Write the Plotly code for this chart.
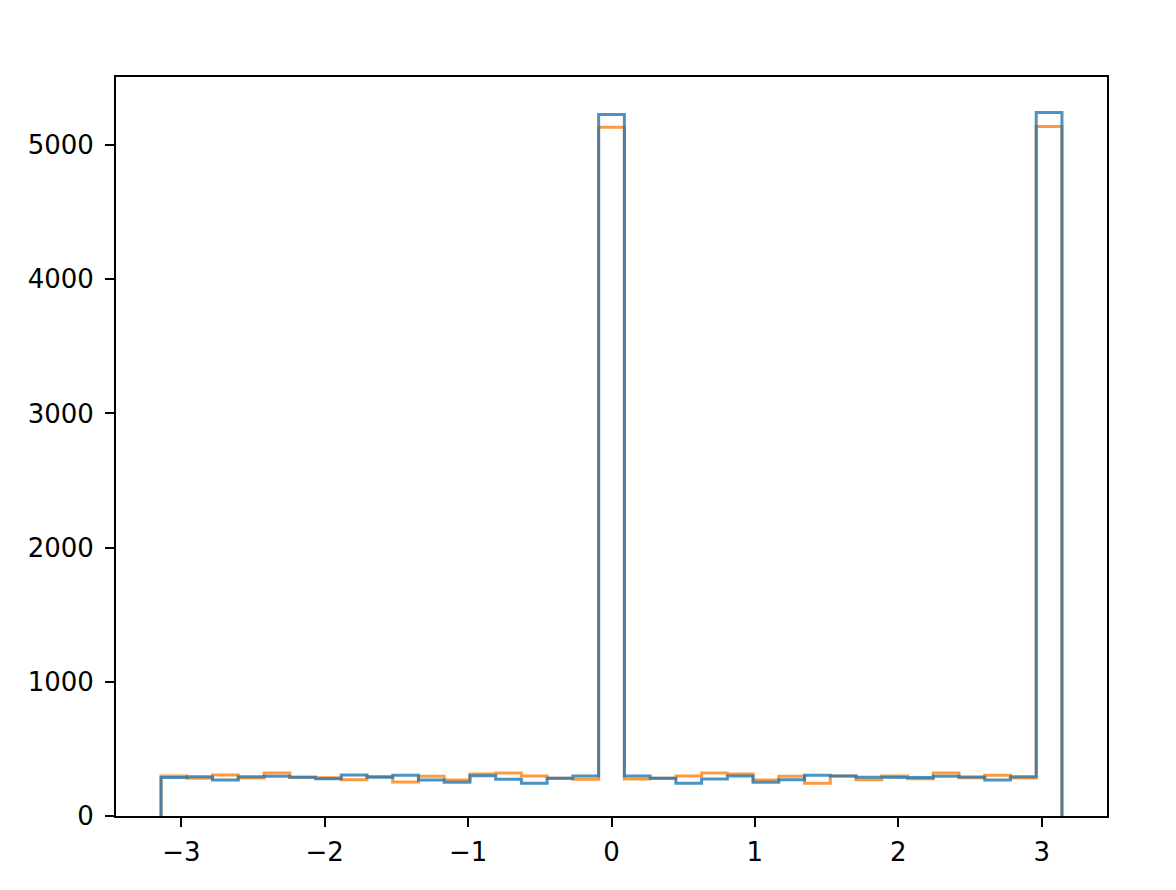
import numpy as np
import plotly.graph_objects as go

# histogram counts, 35 bins between -pi and pi
n_bins = 35
blue_counts = [286, 293, 268, 293, 296, 288, 278, 305, 288, 303, 268, 251, 300, 273, 244, 281, 298, 5227,
               298, 281, 244, 276, 298, 251, 271, 303, 298, 288, 288, 286, 296, 290, 268, 293, 5242]
orange_counts = [298, 281, 305, 283, 320, 288, 285, 271, 295, 253, 296, 268, 313, 320, 298, 281, 273, 5132,
                 276, 281, 298, 320, 313, 268, 296, 244, 298, 271, 298, 278, 320, 285, 303, 283, 5138]
x_ticks = [-3, -2, -1, 0, 1, 2, 3]
y_ticks = [0, 1000, 2000, 3000, 4000, 5000]


def step_outline(counts, edges):
    # matplotlib-style histtype='step' outline (open at the bottom)
    xs = [edges[0]]
    ys = [0]
    for i, c in enumerate(counts):
        xs += [edges[i], edges[i + 1]]
        ys += [c, c]
    xs.append(edges[-1])
    ys.append(0)
    return xs, ys


edges = np.linspace(-np.pi, np.pi, n_bins + 1)

fig = go.Figure()
for counts, color in [(orange_counts, "rgba(255,127,14,0.8)"),
                      (blue_counts, "rgba(31,119,180,0.8)")]:
    xs, ys = step_outline(counts, edges)
    fig.add_scatter(x=xs, y=ys, mode="lines",
                    line=dict(color=color, width=3),
                    showlegend=False, hoverinfo="skip")

axis_style = dict(
    showline=True, mirror=True, linecolor="black", linewidth=2,
    ticks="outside", ticklen=9, tickwidth=2, tickcolor="black",
    showgrid=False, zeroline=False,
    tickfont=dict(family="DejaVu Sans", size=26, color="black"),
)

pad = 0.05 * 2 * np.pi
fig.update_layout(
    width=1176, height=890,
    plot_bgcolor="white", paper_bgcolor="white",
    margin=dict(l=108, r=77, t=69, b=82),
    xaxis=dict(range=[-np.pi - pad, np.pi + pad], tickvals=x_ticks,
               ticklabelstandoff=3, **axis_style),
    yaxis=dict(range=[0, 5507], tickvals=y_ticks,
               ticklabelstandoff=6, **axis_style),
)

fig.write_html("out.html")
